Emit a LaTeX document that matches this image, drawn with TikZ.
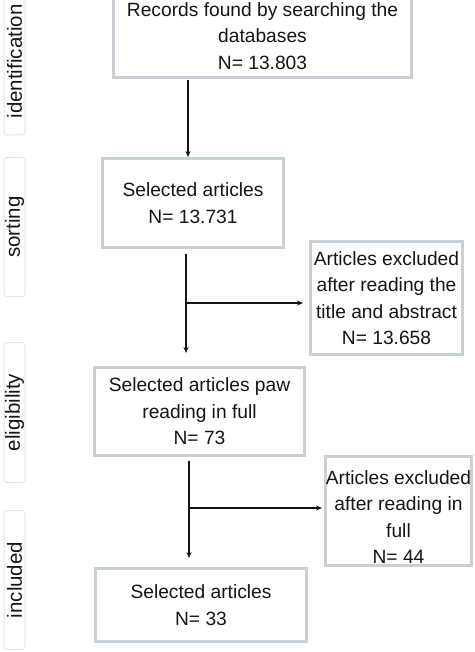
\documentclass[tikz,border=0pt]{standalone}
\usepackage{fontspec}
\setmainfont{Liberation Sans}
\usetikzlibrary{arrows.meta,calc}
\definecolor{boxgray}{HTML}{CAD0D8}
\definecolor{sidegray}{HTML}{E4E4E4}
\definecolor{ink}{HTML}{151515}
\tikzset{
 box/.style={draw=boxgray, line width=3pt, inner sep=0pt, align=center, font=\fontsize{19.2}{26.5}\selectfont, text=ink},
 txt/.style={inner sep=0pt, align=center, font=\fontsize{19.2}{26.5}\selectfont, text=ink},
 side/.style={draw=sidegray, line width=1pt, rounded corners=3pt, rotate=90, minimum height=21pt, inner sep=0pt, font=\fontsize{20.5}{24}\selectfont, text=ink},
 arr/.style={-{Stealth[length=6pt,width=5pt]}, line width=1.2pt, draw=ink},
}
\begin{document}
\begin{tikzpicture}[x=1pt,y=-1pt]
\useasboundingbox (0,0) rectangle (474,652);
\clip (0,0) rectangle (474,652);
% side labels
\node[side, minimum width=147pt] (s1) at (14.5,61.5) {identification};
\node[side, minimum width=139pt] (s2) at (14.5,227) {sorting};
\node[side, minimum width=140pt] (s3) at (14.5,412.5) {eligibility};
\node[side, minimum width=139pt] (s4) at (14.5,580) {included};
% boxes
\node[box, minimum width=298pt, minimum height=83pt] (b1) at (262.5,36) {Records found by searching the\\databases\\N= 13.803};
\node[box, minimum width=181pt, minimum height=89pt] (b2) at (193,203) {Selected articles\\N= 13.731};
\node[box, minimum width=152pt, minimum height=113pt] (b3) at (386.5,298) {Articles excluded\\after reading the\\title and abstract\\N= 13.658};
\node[box, minimum width=210pt, minimum height=88pt] (b4) at (199.5,411.5) {Selected articles paw\\reading in full\\N= 73};
\node[box, minimum width=146pt, minimum height=109pt] (b5) at (398.5,511) {};
\node[txt] (t5) at (398.5,517) {Articles excluded\\after reading in\\full\\N= 44};
\node[box, minimum width=211pt, minimum height=73pt] (b6) at (201,605) {Selected articles\\N= 33};
% connector guides
\coordinate (c1) at (188,0);
\coordinate (c2) at (186,0);
\coordinate (c3) at (189,0);
\coordinate (j2) at (186,303);
\coordinate (j3) at (189,508);
% connectors
\draw[arr, shorten <=1pt] (b1.south -| c1) -- (b2.north -| c1);
\draw[arr, shorten <=5pt, shorten >=13pt] (b2.south -| c2) -- (b4.north -| c2);
\draw[arr, shorten >=6pt] (j2) -- (j2 -| b3.west);
\draw[arr, shorten <=4pt, shorten >=9pt] (b4.south -| c3) -- (b6.north -| c3);
\draw[arr, shorten >=2pt] (j3) -- (j3 -| b5.west);
\end{tikzpicture}
\end{document}
